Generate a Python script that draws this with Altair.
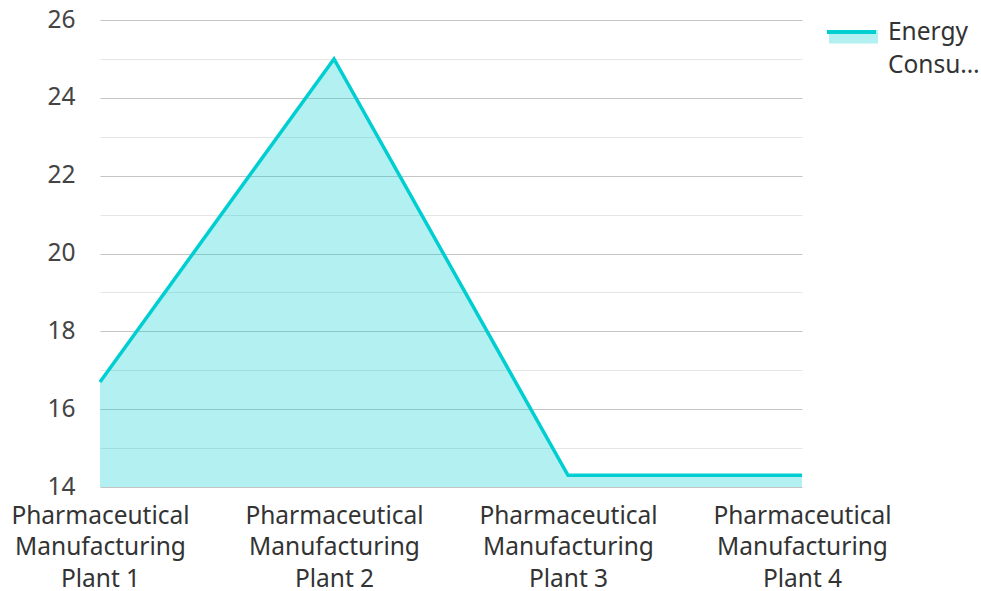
import altair as alt
import pandas as pd

plants = ["Pharmaceutical Manufacturing Plant 1", "Pharmaceutical Manufacturing Plant 2",
          "Pharmaceutical Manufacturing Plant 3", "Pharmaceutical Manufacturing Plant 4"]
energy = [16.7, 25.0, 14.3, 14.3]
series_name = "Energy Consumption"
y_ticks = list(range(14, 27))
y_base = 14

df = pd.DataFrame({"plant": plants, "value": energy,
                   "series": [series_name] * 4, "series_fill": [series_name] * 4})

LINE = "#00CED1"
FONT = "Noto Sans"
FS = 24.5

x_enc = alt.X("plant:N", sort=plants, title=None,
              scale=alt.Scale(type="point", padding=0),
              axis=alt.Axis(labelAngle=0, domain=False, ticks=False, labelPadding=17,
                            labelExpr="split(datum.label, ' ')[0] == 'Pharmaceutical' ? ['Pharmaceutical', 'Manufacturing', 'Plant ' + split(datum.label, ' ')[3]] : datum.label",
                            labelFontSize=FS, labelLineHeight=31.5, labelColor="#333333",
                            labelFont=FONT, labelLimit=300, labelBaseline="top"))
y_enc = alt.Y("value:Q", title=None,
              scale=alt.Scale(domain=[14, 26], nice=False, zero=False),
              axis=alt.Axis(values=y_ticks, domain=False, ticks=False, labelPadding=25,
                            labelExpr="datum.value % 2 === 0 ? datum.label : ''",
                            gridColor={"condition": {"test": "datum.value % 2 === 0", "value": "#c4c4c4"},
                                       "value": "#e6e6e6"},
                            gridWidth=1.2,
                            labelFontSize=FS, labelColor="#444444", labelFont=FONT))

legend_common = dict(orient="none", title=None,
                     labelFontSize=FS, labelFont=FONT, labelColor="#333333",
                     labelOffset=10, symbolSize=2401)

area = alt.Chart(df).mark_area(color=LINE, opacity=0.3, line=False).encode(
    x=x_enc, y=y_enc, y2=alt.datum(y_base),
    fill=alt.Fill("series_fill:N", scale=alt.Scale(domain=[series_name], range=[LINE]),
                  legend=alt.Legend(symbolType="M-1,-0.1H1V0.45H-1Z", symbolStrokeWidth=0,
                                    symbolOpacity=0.3, legendX=729, legendY=-12,
                                    labelExpr="'Energy'", **legend_common)),
)
line = alt.Chart(df).mark_line(strokeWidth=3.5).encode(
    x=x_enc, y=y_enc,
    stroke=alt.Stroke("series:N", scale=alt.Scale(domain=[series_name], range=[LINE]),
                      legend=alt.Legend(symbolType="M-1,-1.37H1", symbolStrokeWidth=4,
                                        symbolFillColor="transparent", legendX=725,
                                        legendY=19, labelExpr="'Consu…'", **legend_common)),
)

chart = alt.layer(area, line).resolve_scale(fill="independent", stroke="independent").properties(
    width=702, height=467, padding={"left": 100, "top": 20, "right": 179, "bottom": 104},
    autosize=alt.AutoSizeParams(type="none"),
).configure_view(stroke=None).configure_axis(gridOpacity=1)

chart.save("out.html", embed_options={"renderer": "svg", "actions": False})
